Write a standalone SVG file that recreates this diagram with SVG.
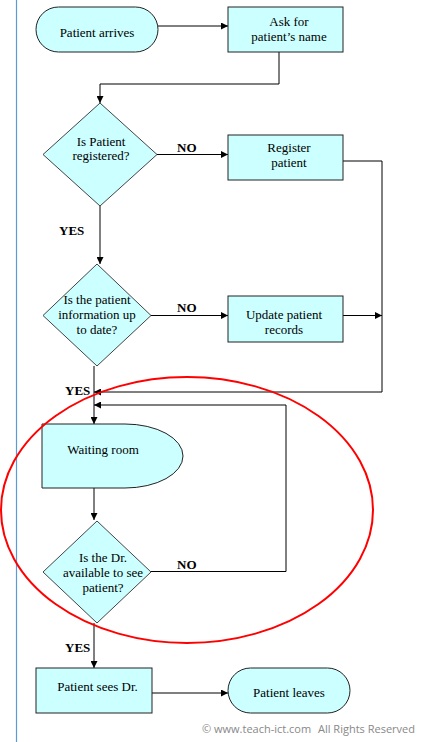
<svg xmlns="http://www.w3.org/2000/svg" width="422" height="742" viewBox="0 0 422 742">
<defs>
<marker id="ah" viewBox="0 0 10 10" refX="10" refY="5" markerWidth="7" markerHeight="7" markerUnits="userSpaceOnUse" orient="auto">
<path d="M0,0 L10,5 L0,10 Z" fill="#000"/>
</marker>
</defs>
<style>
.shape{fill:#ccffff;stroke:#222;stroke-width:1}
.dia{fill:#ccffff;stroke:#444;stroke-width:1}
.t{font-family:"Liberation Serif","Times New Roman",serif;font-size:13px;fill:#000;text-anchor:middle}
.lbl{font-family:"Liberation Serif","Times New Roman",serif;font-size:13px;font-weight:bold;fill:#000}
.c{fill:none;stroke:#000;stroke-width:1}
.cp{font-family:"Open Sans","DejaVu Sans",sans-serif;font-size:11px;fill:#888}
</style>
<rect x="0" y="0" width="422" height="742" fill="#fff"/>
<line x1="16.5" y1="0" x2="16.5" y2="742" stroke="#5b9bd5" stroke-width="1.2"/>

<g id="connectors">
<path class="c" d="M158,26 H228" marker-end="url(#ah)"/>
<path class="c" d="M279,52 V84 H100 V103" marker-end="url(#ah)"/>
<path class="c" d="M157,154.5 H228" marker-end="url(#ah)"/>
<path class="c" d="M100,206 V264" marker-end="url(#ah)"/>
<path class="c" d="M151,315.5 H228" marker-end="url(#ah)"/>
<path class="c" d="M343,315.5 H382" marker-end="url(#ah)"/>
<path class="c" d="M343,161 H382 V392 H94" marker-end="url(#ah)"/>
<path class="c" d="M94,366 V424" marker-end="url(#ah)"/>
<path class="c" d="M151,571.5 H286 V405 H94" marker-end="url(#ah)"/>
<path class="c" d="M94,488 V520" marker-end="url(#ah)"/>
<path class="c" d="M94,623 V668" marker-end="url(#ah)"/>
<path class="c" d="M152,693 H228" marker-end="url(#ah)"/>
<text class="lbl" x="177" y="152">NO</text>
<text class="lbl" x="59" y="235">YES</text>
<text class="lbl" x="177" y="312">NO</text>
<text class="lbl" x="65" y="395">YES</text>
<text class="lbl" x="177" y="569">NO</text>
<text class="lbl" x="65" y="652">YES</text>
</g>

<g id="patient-arrives">
<rect class="shape" x="36" y="7" width="122" height="45" rx="22.5"/>
<text class="t" x="97" y="36.5">Patient arrives</text>
</g>
<g id="ask-name">
<rect class="shape" x="228" y="7" width="115" height="45"/>
<text class="t" x="289" y="26">Ask for</text>
<text class="t" x="289" y="41">patient’s name</text>
</g>
<g id="is-registered">
<polygon class="dia" points="100,103 157,154.5 100,206 43,154.5"/>
<text class="t" x="101" y="145.5">Is Patient</text>
<text class="t" x="101" y="160">registered?</text>
</g>
<g id="register">
<rect class="shape" x="228" y="135" width="115" height="45"/>
<text class="t" x="289" y="151.5">Register</text>
<text class="t" x="289" y="166.5">patient</text>
</g>
<g id="up-to-date">
<polygon class="dia" points="97,264 151,315.5 97,366 43,315.5"/>
<text class="t" x="97" y="303.5">Is the patient</text>
<text class="t" x="97" y="318.5">information up</text>
<text class="t" x="97" y="333.5">to date?</text>
</g>
<g id="update">
<rect class="shape" x="228" y="296" width="115" height="46"/>
<text class="t" x="284" y="318.5">Update patient</text>
<text class="t" x="284" y="333.5">records</text>
</g>
<g id="waiting-room">
<path class="shape" d="M42,424 H125 A58,32 0 0 1 125,488 H42 Z"/>
<text class="t" x="103" y="453.5">Waiting room</text>
</g>
<g id="dr-available">
<polygon class="dia" points="97,521 151,572 97,623 43,572"/>
<text class="t" x="103" y="562">Is the Dr.</text>
<text class="t" x="103" y="577">available to see</text>
<text class="t" x="103" y="591.5">patient?</text>
</g>
<g id="sees-dr">
<rect class="shape" x="36" y="668" width="116" height="45"/>
<text class="t" x="97.5" y="690.5">Patient sees Dr.</text>
</g>
<g id="patient-leaves">
<rect class="shape" x="228" y="668" width="122" height="45" rx="22.5"/>
<text class="t" x="289" y="697">Patient leaves</text>
</g>

<ellipse cx="187" cy="510" rx="186" ry="133" fill="none" stroke="#ff0000" stroke-width="2"/>

<text class="cp" x="202" y="733">© www.teach-ict.com</text>
<text class="cp" x="318" y="733">All Rights Reserved</text>
</svg>
